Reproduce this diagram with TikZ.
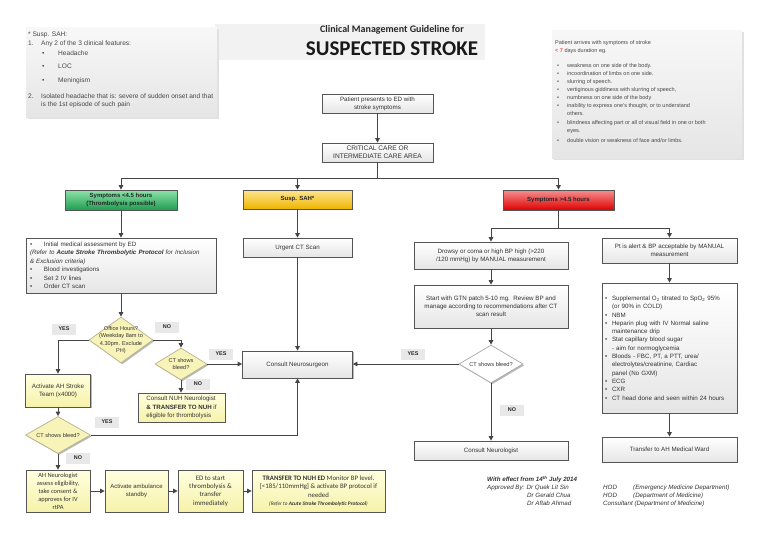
\documentclass[tikz,border=0pt]{standalone}
\usepackage{fontspec}
\setmainfont{Liberation Sans}
\newfontfamily\calfont{Carlito}
\usetikzlibrary{arrows.meta,shapes.geometric,shadows}
\definecolor{txt}{HTML}{333333}
\definecolor{edge}{HTML}{555555}
\definecolor{lnk}{HTML}{454545}
\definecolor{ytop}{HTML}{FFFFDE}
\definecolor{ybot}{HTML}{F7F2AA}
\definecolor{dfill}{HTML}{F8F3B8}
\definecolor{dedge}{HTML}{B8B38C}
\definecolor{gtop}{HTML}{8FE2AA}
\definecolor{gbot}{HTML}{1E9E50}
\definecolor{otop}{HTML}{FDE690}
\definecolor{obot}{HTML}{F0B400}
\definecolor{rtop}{HTML}{F59090}
\definecolor{rbot}{HTML}{E00000}
\definecolor{bandfill}{HTML}{F2F2F2}
\newcommand\bxfont{\fontsize{6.2}{8.2}\selectfont}
\newcommand\bulA{\makebox[14pt][l]{\textbullet}}
\newcommand\bulB{\makebox[7pt][l]{\textbullet}}
\begin{document}
\begin{tikzpicture}[x=1pt,y=-1pt,
  every node/.style={text=txt},
  shad/.style={drop shadow={shadow xshift=1.3pt,shadow yshift=-1.3pt,fill=black,opacity=0.28}},
  box/.style={shad, draw=edge, line width=0.7pt, rectangle, inner xsep=3pt, inner ysep=1pt, align=center, font=\bxfont, top color=white, bottom color=black!10},
  ybox/.style={box, top color=ytop, bottom color=ybot},
  dia/.style={shad, diamond, draw=dedge, line width=0.7pt, fill=dfill, inner sep=0pt},
  wdia/.style={shad, diamond, draw=black!35, line width=0.7pt, fill=white, inner sep=0pt},
  dtext/.style={align=center, font=\fontsize{5.6}{7.4}\selectfont, inner sep=0pt},
  lab/.style={fill=black!9, font=\bfseries\fontsize{5.4}{6}\selectfont, inner sep=0pt, minimum width=24pt, minimum height=11pt, text=black!85},
  ln/.style={draw=lnk, line width=0.9pt},
  arr/.style={ln, -{Triangle[width=4.6pt,length=4.6pt]}},
  note/.style={anchor=west, inner sep=0pt, text height=4.6pt, text depth=1.4pt, font=\fontsize{6.6}{8}\selectfont, text=black!72},
  rnote/.style={anchor=west, inner sep=0pt, text height=4pt, text depth=1.2pt, font=\fontsize{5.5}{7}\selectfont, text=black!72},
  sig/.style={anchor=west, inner sep=0pt, text height=4.4pt, text depth=1.3pt, font=\itshape\fontsize{6.2}{8}\selectfont, text=black!80},
]
\fill[white] (0,0) rectangle (768,543);
\useasboundingbox (0,0) rectangle (768,543);

% ---- header areas
\fill[bandfill] (215,24) rectangle (485,60);
\fill[black!12] (27.5,29.5) rectangle (218.5,118.5);
\path[top color=black!3, bottom color=black!10] (26,28) rectangle (217,117);
\fill[black!12] (553.5,32.5) rectangle (743.5,159.5);
\path[top color=black!3, bottom color=black!10] (552,31) rectangle (742,158);

\node[font=\calfont\bfseries\fontsize{10}{12}\selectfont, text=black!85] (t1) at (392,30) {Clinical Management Guideline for};
\node[font=\calfont\bfseries\fontsize{21}{24}\selectfont, text=black!90] (t2) at (392,48.5) {SUSPECTED STROKE};

% left note
\node[note] (n1) at (28,35) {* Susp. SAH:};
\node[note] (n2) at (28,44) {1.};
\node[note] (n3) at (41,44) {Any 2 of the 3 clinical features:};
\node[note] (n4a) at (42,54) {\textbullet};
\node[note] (n4) at (58,54) {Headache};
\node[note] (n5a) at (42,67) {\textbullet};
\node[note] (n5) at (58,67) {LOC};
\node[note] (n6a) at (42,81) {\textbullet};
\node[note] (n6) at (58,81) {Meningism};
\node[note] (n7) at (28,97) {2.};
\node[note] (n8) at (41,97) {Isolated headache that is: severe of sudden onset and that};
\node[note] (n9) at (41,105) {is the 1st episode of such pain};

% right note
\node[rnote] (r1) at (555,43) {Patient arrives with symptoms of stroke};
\node[rnote] (r2) at (555,51) {{\color{red}< 7} days duration eg.};
\node[rnote] (r3a) at (557,66) {\textbullet};
\node[rnote] (r3) at (567,66) {weakness on one side of the body.};
\node[rnote] (r4a) at (557,74) {\textbullet};
\node[rnote] (r4) at (567,74) {incoordination of limbs on one side.};
\node[rnote] (r5a) at (557,82) {\textbullet};
\node[rnote] (r5) at (567,82) {slurring of speech.};
\node[rnote] (r6a) at (557,90) {\textbullet};
\node[rnote] (r6) at (567,90) {vertiginous giddiness with slurring of speech,};
\node[rnote] (r7a) at (557,98) {\textbullet};
\node[rnote] (r7) at (567,98) {numbness on one side of the body};
\node[rnote] (r8a) at (557,106) {\textbullet};
\node[rnote] (r8) at (567,106) {inability to express one's thought, or to understand};
\node[rnote] (r9) at (567,114) {others.};
\node[rnote] (r10a) at (557,123) {\textbullet};
\node[rnote] (r10) at (567,123) {blindness affecting part or all of visual field in one or both};
\node[rnote] (r11) at (567,131) {eyes.};
\node[rnote] (r12a) at (557,141) {\textbullet};
\node[rnote] (r12) at (567,141) {double vision or weakness of face and/or limbs.};

% ---- flow boxes
\node[box, minimum width=111pt, minimum height=19pt] (patient) at (377.5,103.5) {Patient presents to ED with\\stroke symptoms};
\node[box, minimum width=111pt, minimum height=19pt, font=\fontsize{6.6}{8}\selectfont] (crit) at (377.5,152.5) {CRITICAL CARE OR\\INTERMEDIATE CARE AREA};

\node[box, top color=gtop, bottom color=gbot, minimum width=112pt, minimum height=20pt, font=\bfseries\fontsize{6}{7.6}\selectfont, text=black!85] (green) at (121,200) {Symptoms <4.5 hours\\(Thrombolysis possible)};
\node[box, top color=otop, bottom color=obot, minimum width=109pt, minimum height=19pt, font=\bfseries\fontsize{6}{7.6}\selectfont, text=black!85] (sah) at (297.5,199.5) {Susp. SAH*};
\node[box, top color=rtop, bottom color=rbot, minimum width=111pt, minimum height=20pt, font=\bfseries\fontsize{6}{7.6}\selectfont, text=black!85] (red) at (558.5,200) {Symptoms >4.5 hours};

\node[box, minimum width=109pt, minimum height=19pt] (urgent) at (297.5,247.5) {Urgent CT Scan};
\node[box, minimum width=110pt, minimum height=27pt] (neuro) at (297.5,364.5) {Consult Neurosurgeon};

\node[box, align=left, text width=182pt, inner xsep=4pt, minimum height=55pt, font=\fontsize{6.2}{8.5}\selectfont] (initial) at (121,265.5) {%
\bulA Initial medical assessment by ED\\
\textit{(Refer to \textbf{Acute Stroke Thrombolytic Protocol} for Inclusion}\\
\textit{\& Exclusion criteria)}\\
\bulA Blood investigations\\
\bulA Set 2 IV lines\\
\bulA Order CT scan};

\node[dia, minimum width=64pt, minimum height=46pt] (office) at (121,340) {};
\node[dtext] (officet) at (office) {Office Hours?\\(Weekday 8am to\\4.30pm. Exclude\\PH)};
\node[ybox, minimum width=65pt, minimum height=33pt] (actAH) at (58,390.5) {Activate AH Stroke\\Team (x4000)};
\node[dia, minimum width=52pt, minimum height=32pt] (ctsmall) at (181,364) {};
\node[dtext] (ctsmallt) at (ctsmall) {CT shows\\bleed?};
\node[ybox, align=left, minimum width=87pt, minimum height=29pt] (nuh) at (181.5,407.5) {Consult NUH Neurologist\\\textbf{\& TRANSFER TO NUH} if\\eligible for thrombolysis};
\node[dia, minimum width=65pt, minimum height=37pt] (ctleft) at (58,435) {};
\node[dtext] (ctleftt) at (ctleft) {CT shows bleed?};

\node[ybox, minimum width=64pt, minimum height=42pt, font=\calfont\fontsize{6.4}{8}\selectfont] (ahneuro) at (58,491) {AH Neurologist\\assess eligibility,\\take consent \&\\approves for IV\\rtPA};
\node[ybox, minimum width=63pt, minimum height=42pt, font=\fontsize{6}{7.5}\selectfont] (amb) at (136.5,491) {Activate ambulance\\standby};
\node[ybox, minimum width=65pt, minimum height=42pt, font=\calfont\fontsize{6.9}{8.4}\selectfont] (edstart) at (210.5,491) {ED to start\\thrombolysis \&\\transfer\\immediately};
\node[ybox, minimum width=133pt, minimum height=42pt, font=\calfont\fontsize{6.8}{8.4}\selectfont] (transfer) at (318.5,491) {\textbf{TRANSFER TO NUH ED} Monitor BP level.\\{[}<185/110mmHg{]} \& activate BP protocol if\\needed\\{\fontsize{5.3}{8}\selectfont\itshape (Refer to \textbf{Acute Stroke Thrombolytic Protocol})}};

% right column
\node[box, minimum width=154pt, minimum height=27pt] (drowsy) at (491,255.5) {Drowsy or coma or high BP high (>220\\/120 mmHg) by MANUAL measurement};
\node[box, minimum width=154pt, minimum height=43pt] (gtn) at (491,306.5) {Start with GTN patch 5-10 mg.~~Review BP and\\manage according to recommendations after CT\\scan result};
\node[wdia, minimum width=64pt, minimum height=38pt] (ctright) at (491,364) {};
\node[dtext] (ctrightt) at (ctright) {CT shows bleed?};
\node[box, minimum width=154pt, minimum height=19pt] (neurol) at (491,450.5) {Consult Neurologist};

\node[box, minimum width=135pt, minimum height=25pt] (alert) at (669.5,250.5) {Pt is alert \& BP acceptable by MANUAL\\measurement};
\node[box, align=left, text width=129pt, inner xsep=3pt, minimum height=130pt, font=\fontsize{6.2}{8.3}\selectfont] (big) at (669.5,348) {%
\bulB Supplemental O\textsubscript{2} titrated to SpO\textsubscript{2} 95\%\\
\hspace*{7pt}(or 90\% in COLD)\\
\bulB NBM\\
\bulB Heparin plug with IV Normal saline\\
\hspace*{7pt}maintenance drip\\
\bulB Stat capillary blood sugar\\
\hspace*{7pt}- aim for normoglycemia\\
\bulB Bloods - FBC, PT, a PTT, urea/\\
\hspace*{7pt}electrolytes/creatinine, Cardiac\\
\hspace*{7pt}panel (No GXM)\\
\bulB ECG\\
\bulB CXR\\
\bulB CT head done and seen within 24 hours};
\node[box, minimum width=135pt, minimum height=25pt] (ward) at (669.5,449.5) {Transfer to AH Medical Ward};

% ---- connectors
\draw[arr] (patient) -- (crit);
\coordinate (bus) at (377.5,178);
\draw[ln] (crit.south) -- (bus);
\draw[arr] (bus) -| (green.north);
\draw[arr] (bus) -| (sah.north);
\draw[arr] (bus) -| (red.north);
\draw[arr] (green.south) -- (initial.north);
\draw[arr] (sah) -- (urgent);
\draw[arr] (urgent) -- (neuro);
\draw[arr] (initial.south) -- (office.north);
\draw[arr] (office.west) -| (actAH.north);
\draw[arr] (office.east) -| (ctsmall.north);
\draw[arr] (ctsmall.east) -- (ctsmall.east -| neuro.west);
\draw[arr] (ctsmall.south) -- (ctsmall.south |- nuh.north);
\draw[arr] (actAH.south) -- (ctleft.north);
\draw[arr] (ctleft.east) -| (neuro.south);
\draw[arr] (ctleft.south) -- (ahneuro.north);
\draw[arr] (ahneuro) -- (amb);
\draw[arr] (amb) -- (edstart);
\draw[arr] (edstart) -- (transfer);
\coordinate (rsplit) at (558.5,228);
\draw[ln] (red.south) -- (rsplit);
\draw[arr] (rsplit) -| (drowsy.north);
\draw[arr] (rsplit) -| (alert.north);
\draw[arr] (drowsy) -- (gtn);
\draw[arr] (gtn) -- (ctright);
\draw[arr] (ctright.west) -- (ctright.west -| neuro.east);
\draw[arr] (ctright.south) -- (neurol.north);
\draw[arr] (alert) -- (big);
\draw[arr] (big) -- (ward);

% ---- YES / NO labels
\node[lab] (l1) at (64,329) {YES};
\node[lab] (l2) at (167,327) {NO};
\node[lab] (l3) at (221,354) {YES};
\node[lab] (l4) at (198,384) {NO};
\node[lab] (l5) at (107,422) {YES};
\node[lab] (l6) at (78,458) {NO};
\node[lab] (l7) at (413,354) {YES};
\node[lab] (l8) at (512,410) {NO};

% ---- signatures
\node[sig] (s1) at (487,480) {\textbf{With effect from 14\textsuperscript{th} July 2014}};
\node[sig] (s2) at (487,488) {Approved By: Dr Quek Lit Sin};
\node[sig] (s3) at (603,488) {HOD};
\node[sig] (s4) at (633,488) {(Emergency Medicine Department)};
\node[sig] (s5) at (527,496) {Dr Gerald Chua};
\node[sig] (s6) at (603,496) {HOD};
\node[sig] (s7) at (633,496) {(Department of Medicine)};
\node[sig] (s8) at (527,504) {Dr Aftab Ahmad};
\node[sig] (s9) at (603,504) {Consultant (Department of Medicine)};
\end{tikzpicture}
\end{document}
